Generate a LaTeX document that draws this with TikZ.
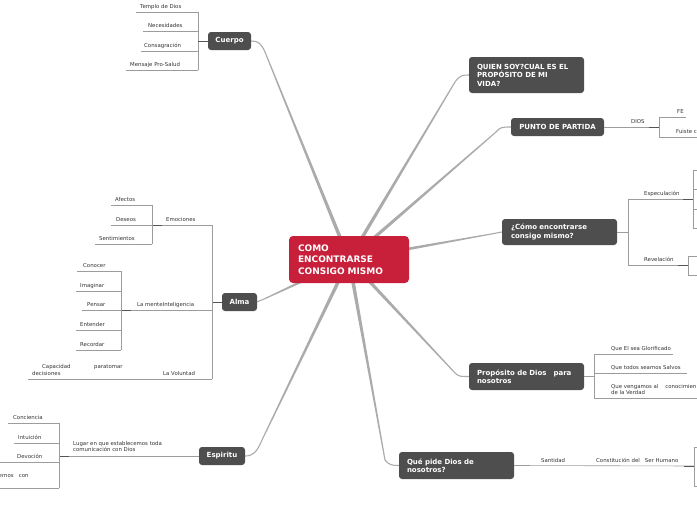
\documentclass[tikz,border=0pt]{standalone}
\usepackage{fontspec}
\setmainfont{DejaVu Sans}
\usetikzlibrary{backgrounds,calc}
\definecolor{topicgray}{HTML}{4E4E4E}
\definecolor{centralred}{HTML}{C8203A}
\definecolor{linegray}{HTML}{ABABAB}
\definecolor{thingray}{HTML}{9C9C9C}
\definecolor{leaftext}{HTML}{333333}
\definecolor{stubgray}{HTML}{555555}
\tikzset{
  topic/.style={rectangle, rounded corners=3pt, fill=topicgray, text=white,
    font=\fontsize{7}{8.5}\selectfont\bfseries, inner sep=0pt, align=center},
  bigtopic/.style={topic, align=left, inner xsep=8pt},
  centraltopic/.style={rectangle, rounded corners=4pt, fill=centralred, text=white,
    font=\fontsize{9}{11.5}\selectfont\bfseries, inner xsep=9pt, inner ysep=0pt, align=left},
  leaf/.style={font=\fontsize{5.4}{6.2}\selectfont, text=leaftext, inner sep=0pt, anchor=base west},
  thinline/.style={draw=thingray, line width=0.6pt},
  stub/.style={draw=stubgray, line width=1pt},
  endline/.style={draw=linegray, line width=1.1pt, line cap=round},
}
\newcommand\mmleaf[6]{%
  \node[leaf] (#1) at (#2,#3-3.5) {#6};
  \draw[thinline] (#4,#3) -- (#5,#3);}
% tapered connector from the central node to bend point #1, then a curve to #4
\newcommand\mmconn[4]{%
  \fill[linegray] ($(c.center)!1.9pt!90:(#1)$) -- ($(#1)!0.55pt!-90:(c.center)$)
    -- ($(#1)!0.55pt!90:(c.center)$) -- ($(c.center)!1.9pt!-90:(#1)$) -- cycle;
  \draw[endline] (#1) .. controls #2 and #3 .. (#4);}
\begin{document}
\begin{tikzpicture}[x=1pt,y=-1pt]
\useasboundingbox (0,0) rectangle (697,520);
% central
\node[centraltopic, minimum width=120pt, minimum height=47pt, text width=102pt] (c) at (349,259.5)
  {COMO\\ENCONTRARSE\\CONSIGO MISMO};
% topics
\node[topic, minimum width=43pt, minimum height=18pt] (cu) at (229.5,41) {Cuerpo};
\node[topic, minimum width=35pt, minimum height=18pt] (al) at (239.5,302) {Alma};
\node[topic, minimum width=46pt, minimum height=18pt] (es) at (222,456) {Espiritu};
\node[bigtopic, minimum width=115pt, minimum height=36pt, text width=99pt] (q) at (526.5,75)
  {QUIEN SOY?CUAL ES EL\\PROPÓSITO DE MI\\VIDA?};
\node[topic, minimum width=93pt, minimum height=18pt] (p) at (557.5,127) {PUNTO DE PARTIDA};
\node[bigtopic, inner xsep=9pt, minimum width=115pt, minimum height=26pt, text width=97pt] (cm) at (559.5,232)
  {¿Cómo encontrarse\\consigo mismo?};
\node[bigtopic, minimum width=115pt, minimum height=27pt, text width=99pt] (pr) at (526.5,376.5)
  {Propósito de Dios~~~para\\nosotros};
\node[bigtopic, minimum width=115pt, minimum height=27pt, text width=99pt] (qp) at (456.5,465.5)
  {Qué pide Dios de\\nosotros?};
% main connectors
\coordinate (bcu) at (265,52);
\coordinate (bal) at (263,299.5);
\coordinate (bes) at (262,440);
\coordinate (bq) at (455,82);
\coordinate (bp) at (496,132);
\coordinate (bcm) at (494,233.5);
\coordinate (bpr) at (455,373);
\coordinate (bqp) at (385,460);
\begin{scope}[on background layer]
\mmconn{bcu}{(261,43)}{(258,41)}{cu.east}
\mmconn{bal}{(261,300)}{(259,301)}{al.east}
\mmconn{bes}{(257,452)}{(253,456)}{es.east}
\mmconn{bq}{(460,75)}{(463,75)}{q.west}
\mmconn{bp}{(500,127)}{(503,127)}{p.west}
\mmconn{bcm}{(497,233)}{(499,232.5)}{cm.west}
\mmconn{bpr}{(459,377)}{(462,376.5)}{pr.west}
\mmconn{bqp}{(389,465)}{(392,465.5)}{qp.west}
\end{scope}
% Cuerpo branch
\mmleaf{l1}{140}{12}{136}{198}{Templo de Dios}
\mmleaf{l2}{148}{31}{143}{198}{Necesidades}
\mmleaf{l3}{144}{51}{141}{198}{Consagración}
\mmleaf{l4}{130}{70}{126}{198}{Mensaje Pro-Salud}
\draw[thinline] (198,12) -- (198,70);
\coordinate (cuj) at (198,41);
\draw[stub] (cu.west) -- (cuj);
% Alma branch
\coordinate (alj) at (212,302);
\draw[stub] (al.west) -- (alj);
\draw[thinline] (212,225) -- (212,379);
\mmleaf{em}{166}{225}{152}{212}{Emociones}
\draw[stub] (152,225) -- (162,225);
\draw[thinline] (152,205) -- (152,244);
\mmleaf{af}{115}{205}{111}{152}{Afectos}
\mmleaf{de}{116}{225}{111}{152}{Deseos}
\mmleaf{se}{99}{244}{95}{152}{Sentimientos}
\mmleaf{lm}{137}{310}{121}{212}{La menteInteligencia}
\draw[stub] (121,310) -- (131,310);
\draw[thinline] (121,271) -- (121,350);
\mmleaf{co}{83}{271}{77}{121}{Conocer}
\mmleaf{im}{80}{291}{76}{121}{Imaginar}
\mmleaf{pe}{87}{310}{82}{121}{Pensar}
\mmleaf{en}{80}{330}{76}{121}{Entender}
\mmleaf{re}{80}{350}{76}{121}{Recordar}
\mmleaf{lv}{163}{379}{28}{212}{La Voluntad}
\node[leaf] (cap1) at (42,368.5) {Capacidad};
\node[leaf] (cap2) at (94,368.5) {paratomar};
\node[leaf] (cap3) at (32,375) {decisiones};
% Espiritu branch
\draw[thinline] (59,456) -- (es.west);
\draw[stub] (59,456) -- (69,456);
\node[leaf] (lu1) at (73,445.5) {Lugar en que establecemos toda};
\node[leaf] (lu2) at (73,451.5) {comunicación con Dios};
\draw[thinline] (59,423) -- (59,488);
\mmleaf{cc}{13}{423}{8}{59}{Conciencia}
\mmleaf{in}{18}{443}{14}{59}{Intuición}
\mmleaf{dv}{17}{462}{0}{59}{Devoción}
\node[leaf] (cn) at (-1.5,477.5) {ernos~~~con};
\draw[thinline] (0,488) -- (59,488);
% Punto de partida branch
\draw[thinline] (p.east) -- (659,127);
\node[leaf] (dios) at (631,123.5) {DIOS};
\draw[stub] (649,127) -- (659,127);
\draw[thinline] (659,117) -- (659,137);
\mmleaf{fe}{677}{117}{659}{686}{FE}
\mmleaf{fu}{676}{137}{659}{698}{Fuiste c}
% Como encontrarse branch
\draw[thinline] (cm.east) -- (628,232);
\draw[thinline] (628,199) -- (628,265);
\mmleaf{esp}{644}{199}{628}{693}{Especulación}
\draw[stub] (683,199) -- (693,199);
\draw[thinline] (693,170) -- (693,228);
\foreach \yy in {170,189,209,228} \draw[thinline] (693,\yy) -- (698,\yy);
\mmleaf{rev}{644}{265}{628}{688}{Revelación}
\draw[stub] (678,265) -- (688,265);
\draw[thinline] (688,256) -- (688,275);
\foreach \yy in {256,275} \draw[thinline] (688,\yy) -- (698,\yy);
% Proposito branch
\draw[thinline] (pr.east) -- (594,376.5);
\draw[thinline] (594,354) -- (594,398);
\mmleaf{pg}{611}{354}{594}{673}{Que El sea Glorificado}
\mmleaf{ps}{611}{373}{594}{687}{Que todos seamos Salvos}
\node[leaf] (pv1) at (611,388) {Que vengamos al~~~~conocimien};
\node[leaf] (pv2) at (611,394.5) {de la Verdad};
\draw[thinline] (594,398) -- (698,398);
% Que pide branch
\draw[thinline] (qp.east) -- (694,466);
\node[leaf] (sa) at (541,462.5) {Santidad};
\node[leaf] (csh) at (596,462.5) {Constitución del~~~Ser Humano};
\draw[stub] (684,466) -- (694,466);
\draw[thinline] (694,447) -- (694,486);
\foreach \yy in {447,486} \draw[thinline] (694,\yy) -- (698,\yy);
\end{tikzpicture}
\end{document}
